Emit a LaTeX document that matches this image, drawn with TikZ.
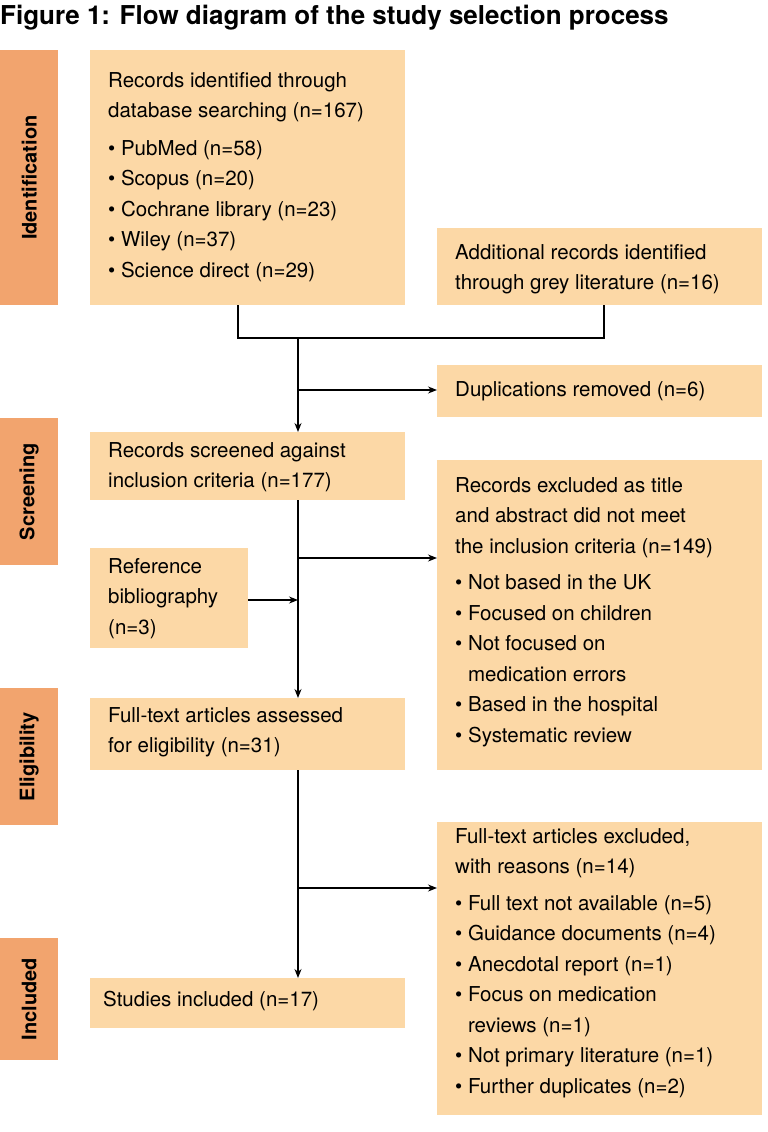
\documentclass[tikz,border=0pt]{standalone}
\usepackage{fontspec}
\setmainfont{TeX Gyre Heros}
\usetikzlibrary{arrows.meta}
\definecolor{boxc}{HTML}{FCD8A6}
\definecolor{sidec}{HTML}{F2A46E}
\newcommand{\bl}{\textbullet\ }
\newcommand{\bi}{\hphantom{\textbullet\ }}
\begin{document}
\begin{tikzpicture}[x=1pt,y=-1pt,
  box/.style={fill=boxc,draw=none,anchor=north west,inner sep=0},
  side/.style={fill=sidec,draw=none,anchor=north west,inner sep=0,minimum width=58},
  txt/.style={anchor=north west,align=left,inner sep=0,font=\fontsize{20.5}{30.5}\selectfont},
  sidetxt/.style={rotate=90,font=\fontsize{20}{22}\selectfont\bfseries},
  arr/.style={line width=1.2pt,-{Stealth[length=9pt,width=7pt]}},
  ln/.style={line width=1.2pt}]
\useasboundingbox (0,0) rectangle (768,1132);
\node[anchor=north west,inner sep=0,font=\fontsize{26}{28}\selectfont\bfseries] (title) at (0,5) {Figure 1: Flow diagram of the study selection process};
% side bars
\node[side,minimum height=255] (s1) at (0,50) {};
\node[sidetxt] (s1t) at (s1.center) {Identification};
\node[side,minimum height=147] (s2) at (0,418) {};
\node[sidetxt] (s2t) at (s2.center) {Screening};
\node[side,minimum height=137] (s3) at (0,688) {};
\node[sidetxt] (s3t) at (s3.center) {Eligibility};
\node[side,minimum height=122] (s4) at (0,938) {};
\node[sidetxt] (s4t) at (s4.center) {Included};
% boxes
\node[box,minimum width=315,minimum height=255] (b1) at (90,50) {};
\node[txt] (b1t) at (108,72) {Records identified through\\database searching (n=167)\\[7pt]
\bl PubMed (n=58)\\\bl Scopus (n=20)\\\bl Cochrane library (n=23)\\\bl Wiley (n=37)\\\bl Science direct (n=29)};
\node[box,minimum width=325,minimum height=77] (b2) at (437,228) {};
\node[txt] (b2t) at (455,244) {Additional records identified\\through grey literature (n=16)};
\node[box,minimum width=325,minimum height=52] (dup) at (437,365) {};
\node[txt] (dupt) at (455,381) {Duplications removed (n=6)};
\node[box,minimum width=315,minimum height=68] (scr) at (90,432) {};
\node[txt] (scrt) at (108,442) {Records screened against\\inclusion criteria (n=177)};
\node[box,minimum width=325,minimum height=310] (ex1) at (437,460) {};
\node[txt] (ex1t) at (455,477) {Records excluded as title\\and abstract did not meet\\the inclusion criteria (n=149)\\[6pt]
\bl Not based in the UK\\\bl Focused on children\\\bl Not focused on\\\bi medication errors\\\bl Based in the hospital\\\bl Systematic review};
\node[box,minimum width=158,minimum height=100] (ref) at (90,548) {};
\node[txt] (reft) at (108,558) {Reference\\bibliography\\(n=3)};
\node[box,minimum width=315,minimum height=72] (ft) at (90,698) {};
\node[txt] (ftt) at (108,707) {Full-text articles assessed\\for eligibility (n=31)};
\node[box,minimum width=325,minimum height=293] (ex2) at (437,822) {};
\node[txt] (ex2t) at (455,828) {Full-text articles excluded,\\with reasons (n=14)\\[6pt]
\bl Full text not available (n=5)\\\bl Guidance documents (n=4)\\\bl Anecdotal report (n=1)\\\bl Focus on medication\\\bi reviews (n=1)\\\bl Not primary literature (n=1)\\\bl Further duplicates (n=2)};
\node[box,minimum width=315,minimum height=50] (inc) at (90,978) {};
\node[txt] (inct) at (103,991) {Studies included (n=17)};
% connectors
\coordinate (j1) at (238,338);
\coordinate (j2) at (604,338);
\coordinate (m1) at (298,338);
\coordinate (m2) at (298,390);
\coordinate (m3) at (298,558);
\coordinate (m4) at (298,600);
\coordinate (m5) at (298,888);
\draw[ln] (j1 |- b1.south) -- (j1) -- (j2) -- (j2 |- b2.south);
\draw[arr] (m1) -- (m1 |- scr.north);
\draw[arr] (m2) -- (dup.west |- m2);
\draw[arr] (m1 |- scr.south) -- (m1 |- ft.north);
\draw[arr] (m3) -- (ex1.west |- m3);
\draw[arr] (ref.east |- m4) -- (m4);
\draw[arr] (m1 |- ft.south) -- (m1 |- inc.north);
\draw[arr] (m5) -- (ex2.west |- m5);
\end{tikzpicture}
\end{document}
